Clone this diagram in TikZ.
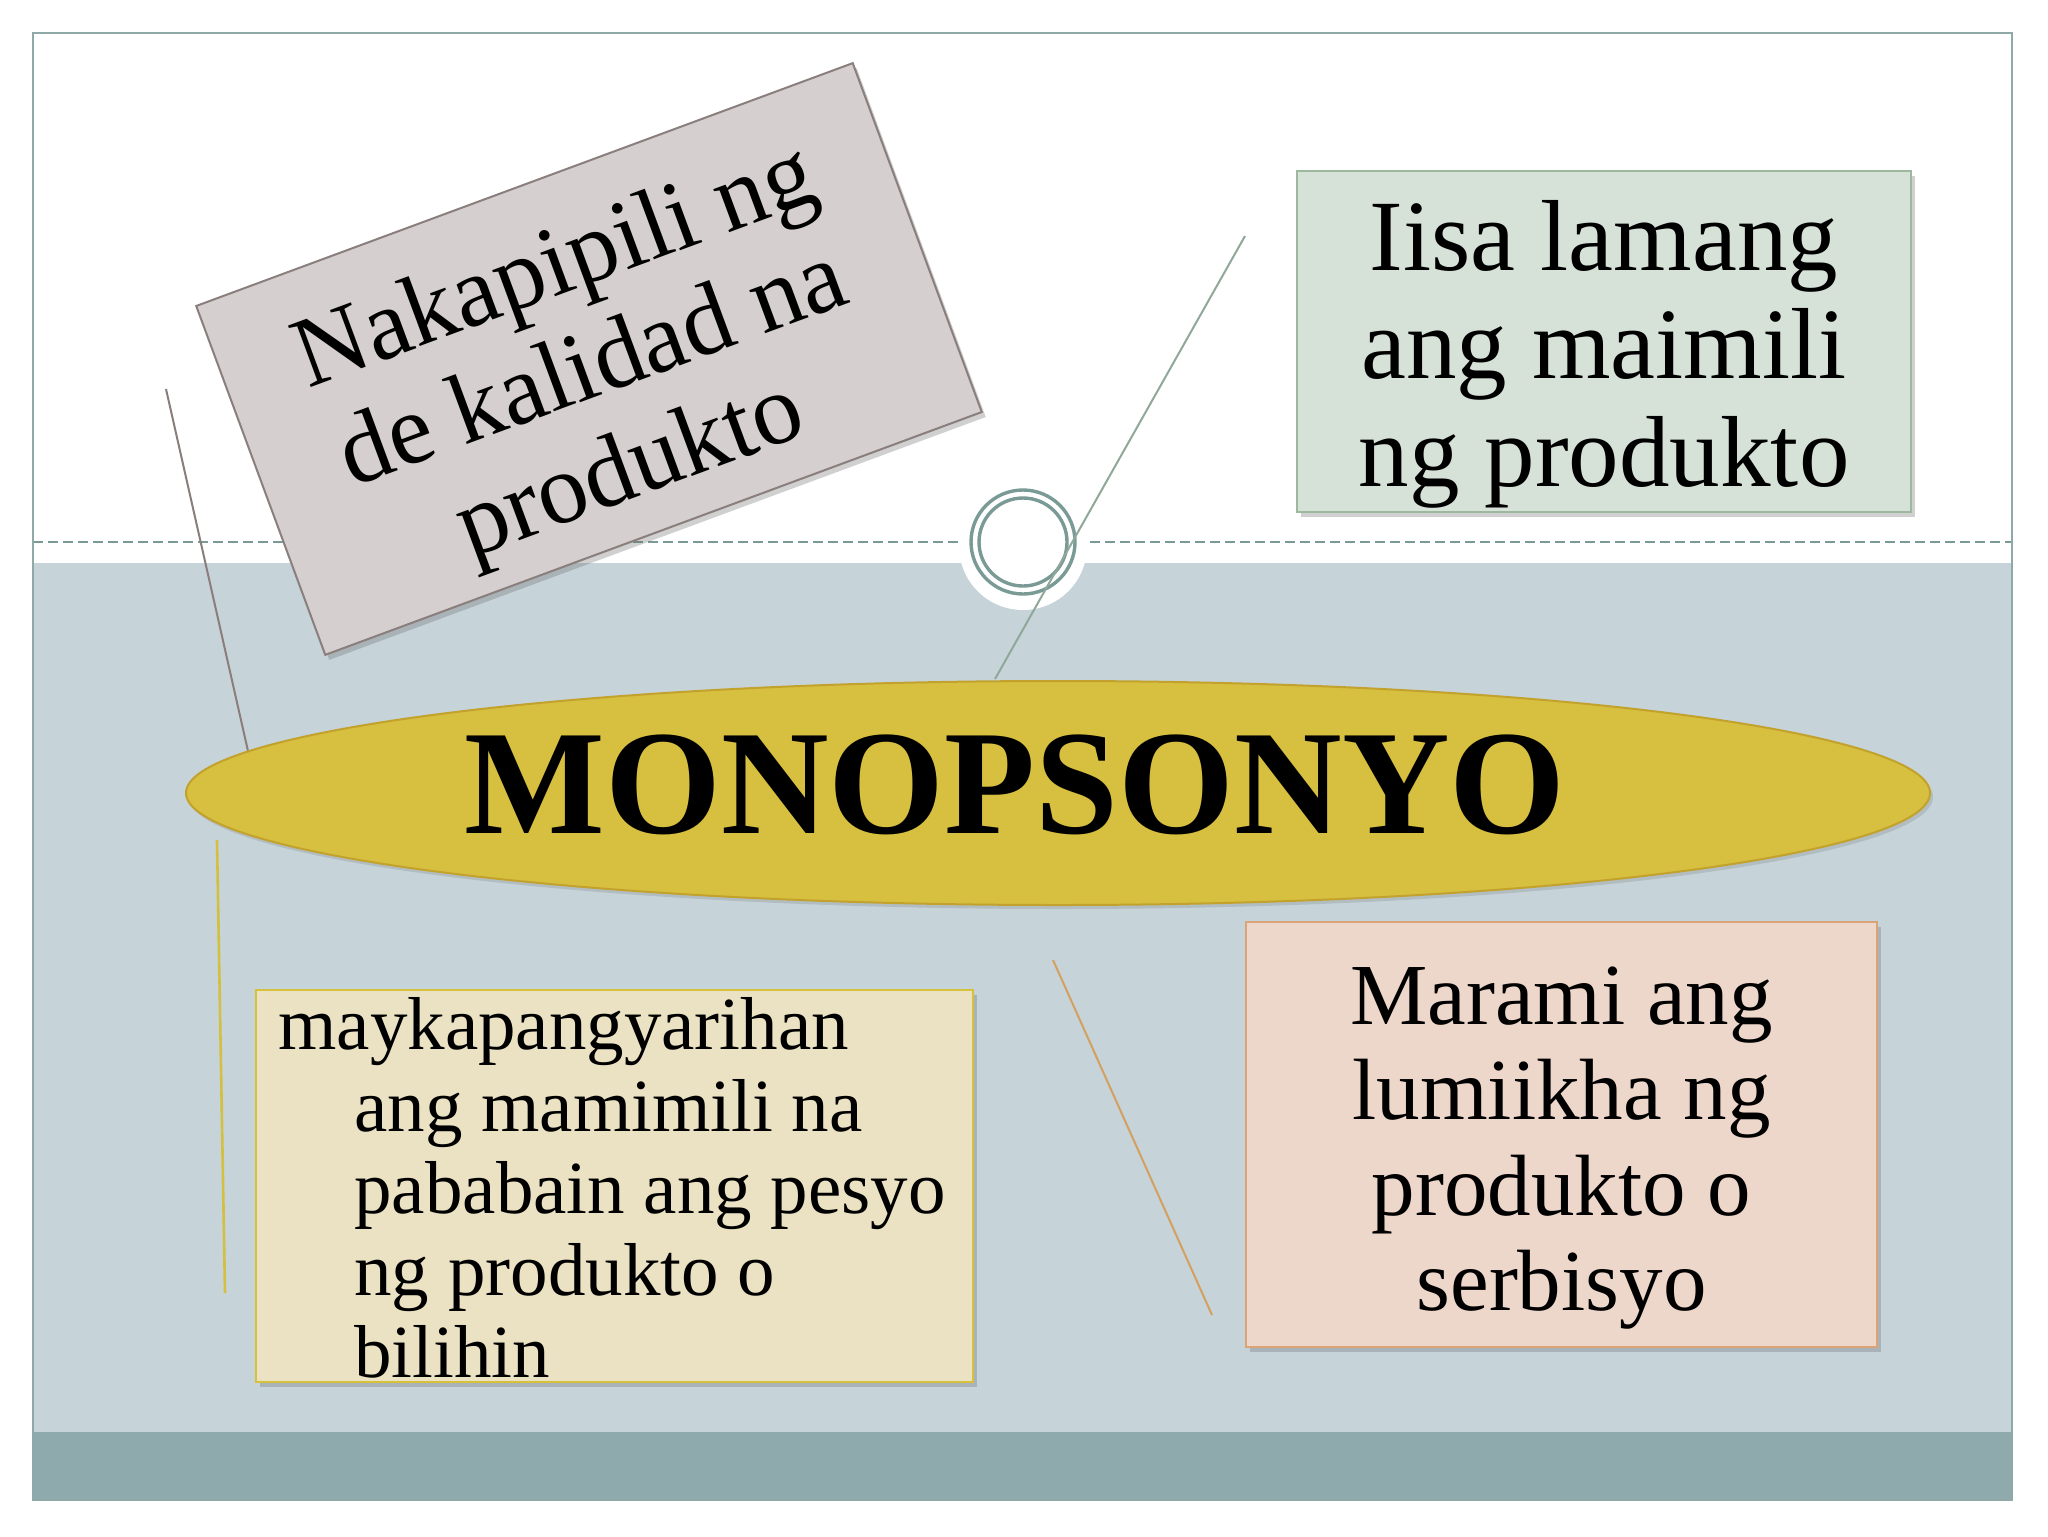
\documentclass[tikz,border=0pt]{standalone}
\usepackage{fontspec}
\setmainfont{Liberation Serif}
\usetikzlibrary{shapes.geometric,shadows}
\definecolor{frameC}{HTML}{8FA8A8}
\definecolor{lightC}{HTML}{C6D3D9}
\definecolor{bandC}{HTML}{8EAAAD}
\definecolor{ringC}{HTML}{7A9A95}
\definecolor{grayF}{HTML}{D5D0CF}
\definecolor{grayD}{HTML}{8A7F7C}
\definecolor{greenF}{HTML}{D6E1D8}
\definecolor{greenD}{HTML}{9DB89F}
\definecolor{yelF}{HTML}{EBE2C4}
\definecolor{yelD}{HTML}{D5C13A}
\definecolor{pinkF}{HTML}{EDD6CA}
\definecolor{pinkD}{HTML}{DBA477}
\definecolor{ellF}{HTML}{D7BF3F}
\definecolor{ellD}{HTML}{C2A22C}
\definecolor{lineG}{HTML}{8FA899}
\definecolor{lineB}{HTML}{8B7D7B}
\definecolor{lineY}{HTML}{D4C040}
\definecolor{lineP}{HTML}{D4A060}
\tikzset{
  card/.style={draw, line width=1pt, inner sep=0pt,
    drop shadow={shadow xshift=2pt, shadow yshift=-2.5pt, opacity=0.3, fill=black!60}},
  cardtext/.style={inner sep=0pt, align=center},
  conn/.style={line width=1pt},
}
\begin{document}
\begin{tikzpicture}[x=0.5pt,y=-0.5pt]
\useasboundingbox (0,0) rectangle (2048,1536);
\fill[white] (0,0) rectangle (2048,1536);
\fill[lightC] (33,563) rectangle (2012,1432);
\fill[bandC] (33,1432) rectangle (2012,1500);
\draw[ringC, dash pattern=on 5pt off 2.5pt, line width=1pt] (33,542) -- (958,542);
\draw[ringC, dash pattern=on 5pt off 2.5pt, line width=1pt] (1090,542) -- (2012,542);
\fill[white] (1023,546) circle [radius=64];
\draw[ringC, line width=1.7pt] (1023,542) circle [radius=52];
\draw[ringC, line width=1.7pt] (1023,542) circle [radius=44];
\draw[frameC, line width=1.2pt] (33,33) rectangle (2012,1500);

% connectors (free lines)
\coordinate (gA) at (166,389); \coordinate (gB) at (248,751);
\coordinate (iA) at (1245,236); \coordinate (iB) at (995,679);
\coordinate (yA) at (217,840); \coordinate (yB) at (225,1293);
\coordinate (pA) at (1053,960); \coordinate (pB) at (1212,1315);
\draw[conn, lineB] (gA) -- (gB);
\draw[conn, lineY, line width=1.3pt] (yA) -- (yB);
\draw[conn, lineP] (pA) -- (pB);

% gray rotated card
\node[card, draw=grayD, fill=grayF, rotate=20.3, minimum width=350pt, minimum height=186pt] (gray) at (589,359) {};
\node[cardtext, rotate=20.3, font=\fontsize{50}{54}\selectfont] (grayT) at (594,372)
  {Nakapipili ng\\de kalidad na\\produkto};

% green card
\node[card, draw=greenD, fill=greenF, minimum width=307pt, minimum height=170.5pt] (green) at (1604,341.5) {};
\node[cardtext, font=\fontsize{50.5}{54}\selectfont] (greenT) at (1604,354)
  {Iisa lamang\\ang maimili\\ng produkto};

% connector over ring
\draw[conn, lineG] (iA) -- (iB);

% ellipse
\node[ellipse, draw=ellD, fill=ellF, line width=1pt, minimum width=872pt, minimum height=112pt, inner sep=0pt,
      drop shadow={shadow xshift=1.5pt, shadow yshift=-2pt, opacity=0.2, fill=black!60}] (ell) at (1058,793) {};
\node[font=\fontsize{74.5}{80}\selectfont\bfseries, inner sep=0pt] (title) at (1015,785) {MONOPSONYO};

% yellow card
\node[card, draw=yelD, fill=yelF, line width=1.3pt, minimum width=358.5pt, minimum height=196pt] (yellow) at (614.5,1186) {};
\node[anchor=north west, inner sep=0pt, align=left, font=\fontsize{37.5}{41}\selectfont] (ytext) at (278,997)
  {maykapangyarihan\\\hspace*{38pt}ang mamimili na\\\hspace*{38pt}pababain ang pesyo\\\hspace*{38pt}ng produkto o\\\hspace*{38pt}bilihin};

% pink card
\node[card, draw=pinkD, fill=pinkF, minimum width=315.5pt, minimum height=212.5pt] (pink) at (1561.5,1134.5) {};
\node[cardtext, font=\fontsize{43.5}{47.7}\selectfont] (pinkT) at (1561.5,1148)
  {Marami ang\\lumiikha ng\\produkto o\\serbisyo};
\end{tikzpicture}
\end{document}
